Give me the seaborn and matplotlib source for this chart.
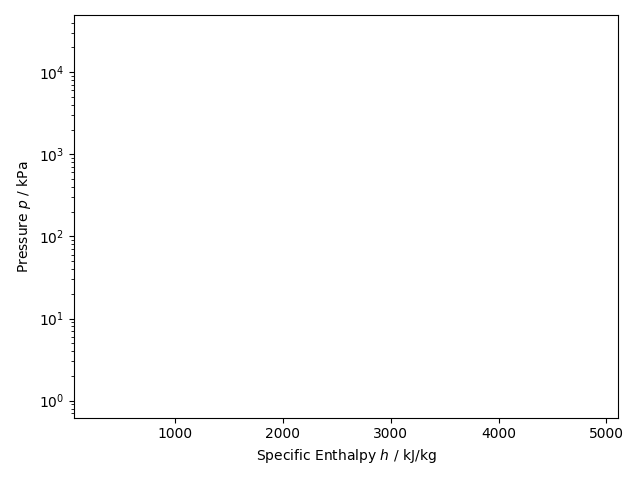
import matplotlib
matplotlib.use("Agg")
import matplotlib.pyplot as plt
import seaborn as sns
import pandas as pd

# Axis ranges (empty p-h diagram)
x_limits = [63, 5111]          # kJ/kg
y_limits = [0.62, 49600]       # kPa
x_ticks = [1000, 2000, 3000, 4000, 5000]

# No plotted series in the reference
h_values = []
p_values = []

df = pd.DataFrame({"h": pd.Series(h_values, dtype=float),
                   "p": pd.Series(p_values, dtype=float)})

fig, ax = plt.subplots(figsize=(6.4, 4.8), dpi=100)
if len(df):
    sns.lineplot(data=df, x="h", y="p", ax=ax)
ax.set_yscale("log")
ax.set_xlim(*x_limits)
ax.set_ylim(*y_limits)
ax.set_xticks(x_ticks)
ax.set_xlabel("Specific Enthalpy $h$ / kJ/kg")
ax.set_ylabel("Pressure $p$ / kPa")
fig.tight_layout()
fig.savefig("out.png", dpi=100)
